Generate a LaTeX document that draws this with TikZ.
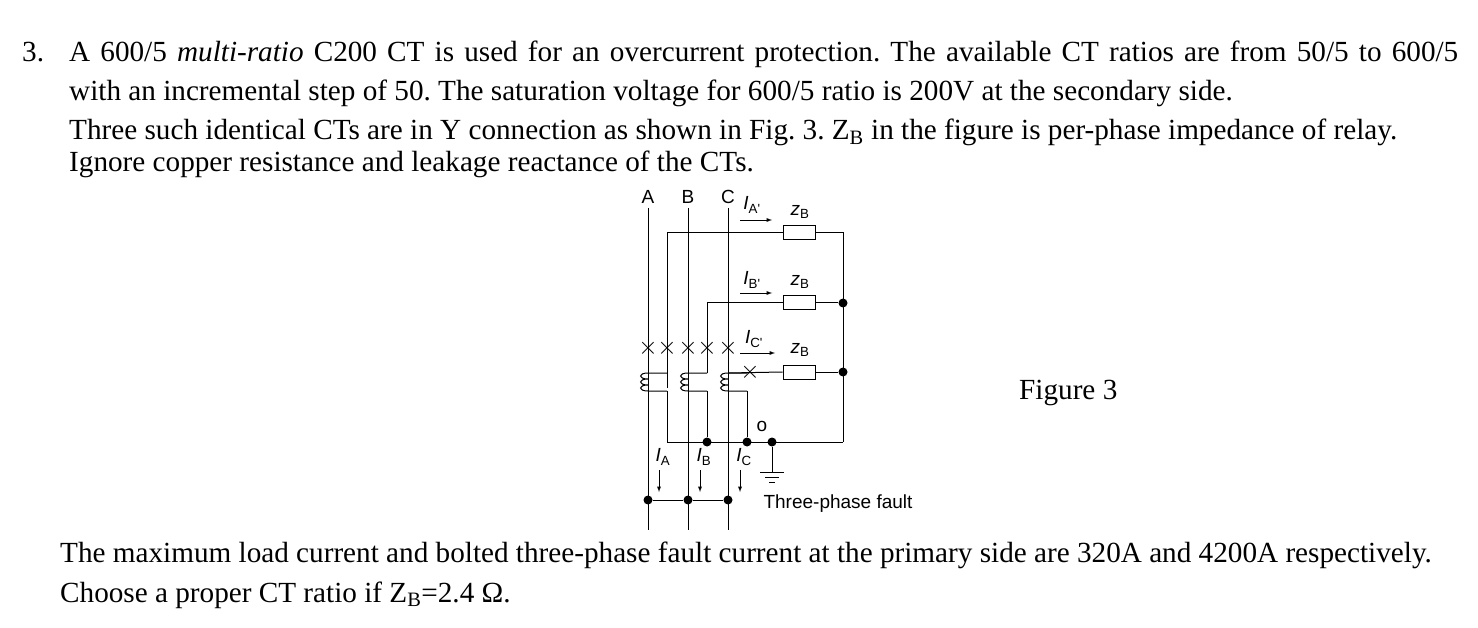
\documentclass[tikz,border=0pt]{standalone}
\usepackage{fontspec}
\setmainfont{Liberation Serif}
\newfontfamily\myss{Liberation Sans}
\frenchspacing
\begin{document}
\begin{tikzpicture}[x=1pt,y=-1pt,
  txt/.style={anchor=base west,inner sep=0,font=\fontsize{29.2}{34}\selectfont},
  lab/.style={inner sep=0,font=\myss\fontsize{19}{22}\selectfont},
  w/.style={line width=1pt},
  res/.style={draw,line width=1pt,minimum width=32pt,minimum height=14pt,inner sep=0,fill=white},
  dot/.style={circle,fill,inner sep=0,minimum size=9pt},
  xm/.style={inner sep=0,font=\myss\fontsize{24}{24}\selectfont},
  arr/.style={-latex,line width=0.9pt}]
\useasboundingbox (0,0) rectangle (1478,628);
\node[txt] (n3) at (22,62) {3.};
\node[txt] (l1) at (69,62) {\makebox[1389pt][s]{A 600/5 \textit{multi-ratio} C200 CT is used for an overcurrent protection. The available CT ratios are from 50/5 to 600/5}};
\node[txt] (l2) at (69,101) {with an incremental step of 50. The saturation voltage for 600/5 ratio is 200V at the secondary side.};
\node[txt] (l3) at (69,140) {Three such identical CTs are in Y connection as shown in Fig. 3. Z\textsubscript{B} in the figure is per-phase impedance of relay.};
\node[txt] (l4) at (69,172) {Ignore copper resistance and leakage reactance of the CTs.};
\node[txt] (l5) at (60,562) {The maximum load current and bolted three-phase fault current at the primary side are 320A and 4200A respectively.};
\node[txt] (l6) at (60,602) {Choose a proper CT ratio if Z\textsubscript{B}=2.4 Ω.};
\node[txt] (fig) at (1019,399) {Figure 3};
% phase lines
\foreach \n/\x in {A/648,B/688,C/728}{
  \node[lab] (p\n) at (\x,197) {\n};
  \draw[w] (\x,208) -- (\x,530);
  \node[dot] (bus\n) at (\x,500) {};
}
\draw[w] (busA) -- (busB) -- (busC);
% resistors
\node[res] (ra) at (799,233) {};
\node[res] (rb) at (799,303) {};
\node[res] (rc) at (799,372) {};
\node[dot] (db) at (843,303) {};
\node[dot] (dc) at (843,372) {};
\coordinate (tr) at (843,233);
\coordinate (br) at (843,442);
\draw[w] (667,388) -- (667,233) -- (ra.west);
\draw[w] (ra.east) -- (tr) -- (br);
\draw[w] (707,373) -- (707,303) -- (rb.west);
\draw[w] (rb.east) -- (db);
\draw[w] (728,373) -- (rc.west);
\draw[w] (rc.east) -- (dc);
% coils
\foreach \x/\r in {648/667,688/707,728/747}{
  \draw[w] (\r,373) -- (\x,373)
    .. controls (\x-10,373) and (\x-10,379) .. (\x,379)
    .. controls (\x-10,379) and (\x-10,385) .. (\x,385)
    .. controls (\x-10,385) and (\x-10,391) .. (\x,391) -- (\r,391);
}
\draw[w] (667,391) -- (667,442);
\node[dot] (nb) at (707,442) {};
\node[dot] (nc) at (747,442) {};
\node[dot] (no) at (772,442) {};
\draw[w] (707,391) -- (nb);
\draw[w] (747,391) -- (nc);
\draw[w] (667,442) -- (br);
\node[lab] (o) at (762,426) {o};
% ground
\coordinate (g) at (772,472);
\draw[w] (no) -- (g);
\draw[w] (760,472) -- (784,472) (765,477) -- (779,477) (769,482) -- (775,482);
% crosses
\foreach \x in {648,667,688,707,728}{\node[xm] at (\x,348) {$\times$};}
\node[xm] at (750,372) {$\times$};
% labels
\node[lab] (ia1) at (752,205) {\textit{I}\textsubscript{A'}};
\node[lab] (ib1) at (752,280) {\textit{I}\textsubscript{B'}};
\node[lab] (ic1) at (754,339) {\textit{I}\textsubscript{C'}};
\draw[arr] (740,220) -- (772,220);
\draw[arr] (740,293) -- (772,293);
\draw[arr] (740,353) -- (775,353);
\foreach \y in {212,282,350}{\node[lab] at (800,\y) {\textit{z}\textsubscript{B}};}
\node[lab] (ia) at (663,457) {\textit{I}\textsubscript{A}};
\node[lab] (ib) at (704,457) {\textit{I}\textsubscript{B}};
\node[lab] (ic) at (744,457) {\textit{I}\textsubscript{C}};
\foreach \x in {659,700,740}{\draw[arr] (\x,470) -- (\x,492);}
\node[lab] (tpf) at (838,504) {Three-phase fault};
\end{tikzpicture}
\end{document}
